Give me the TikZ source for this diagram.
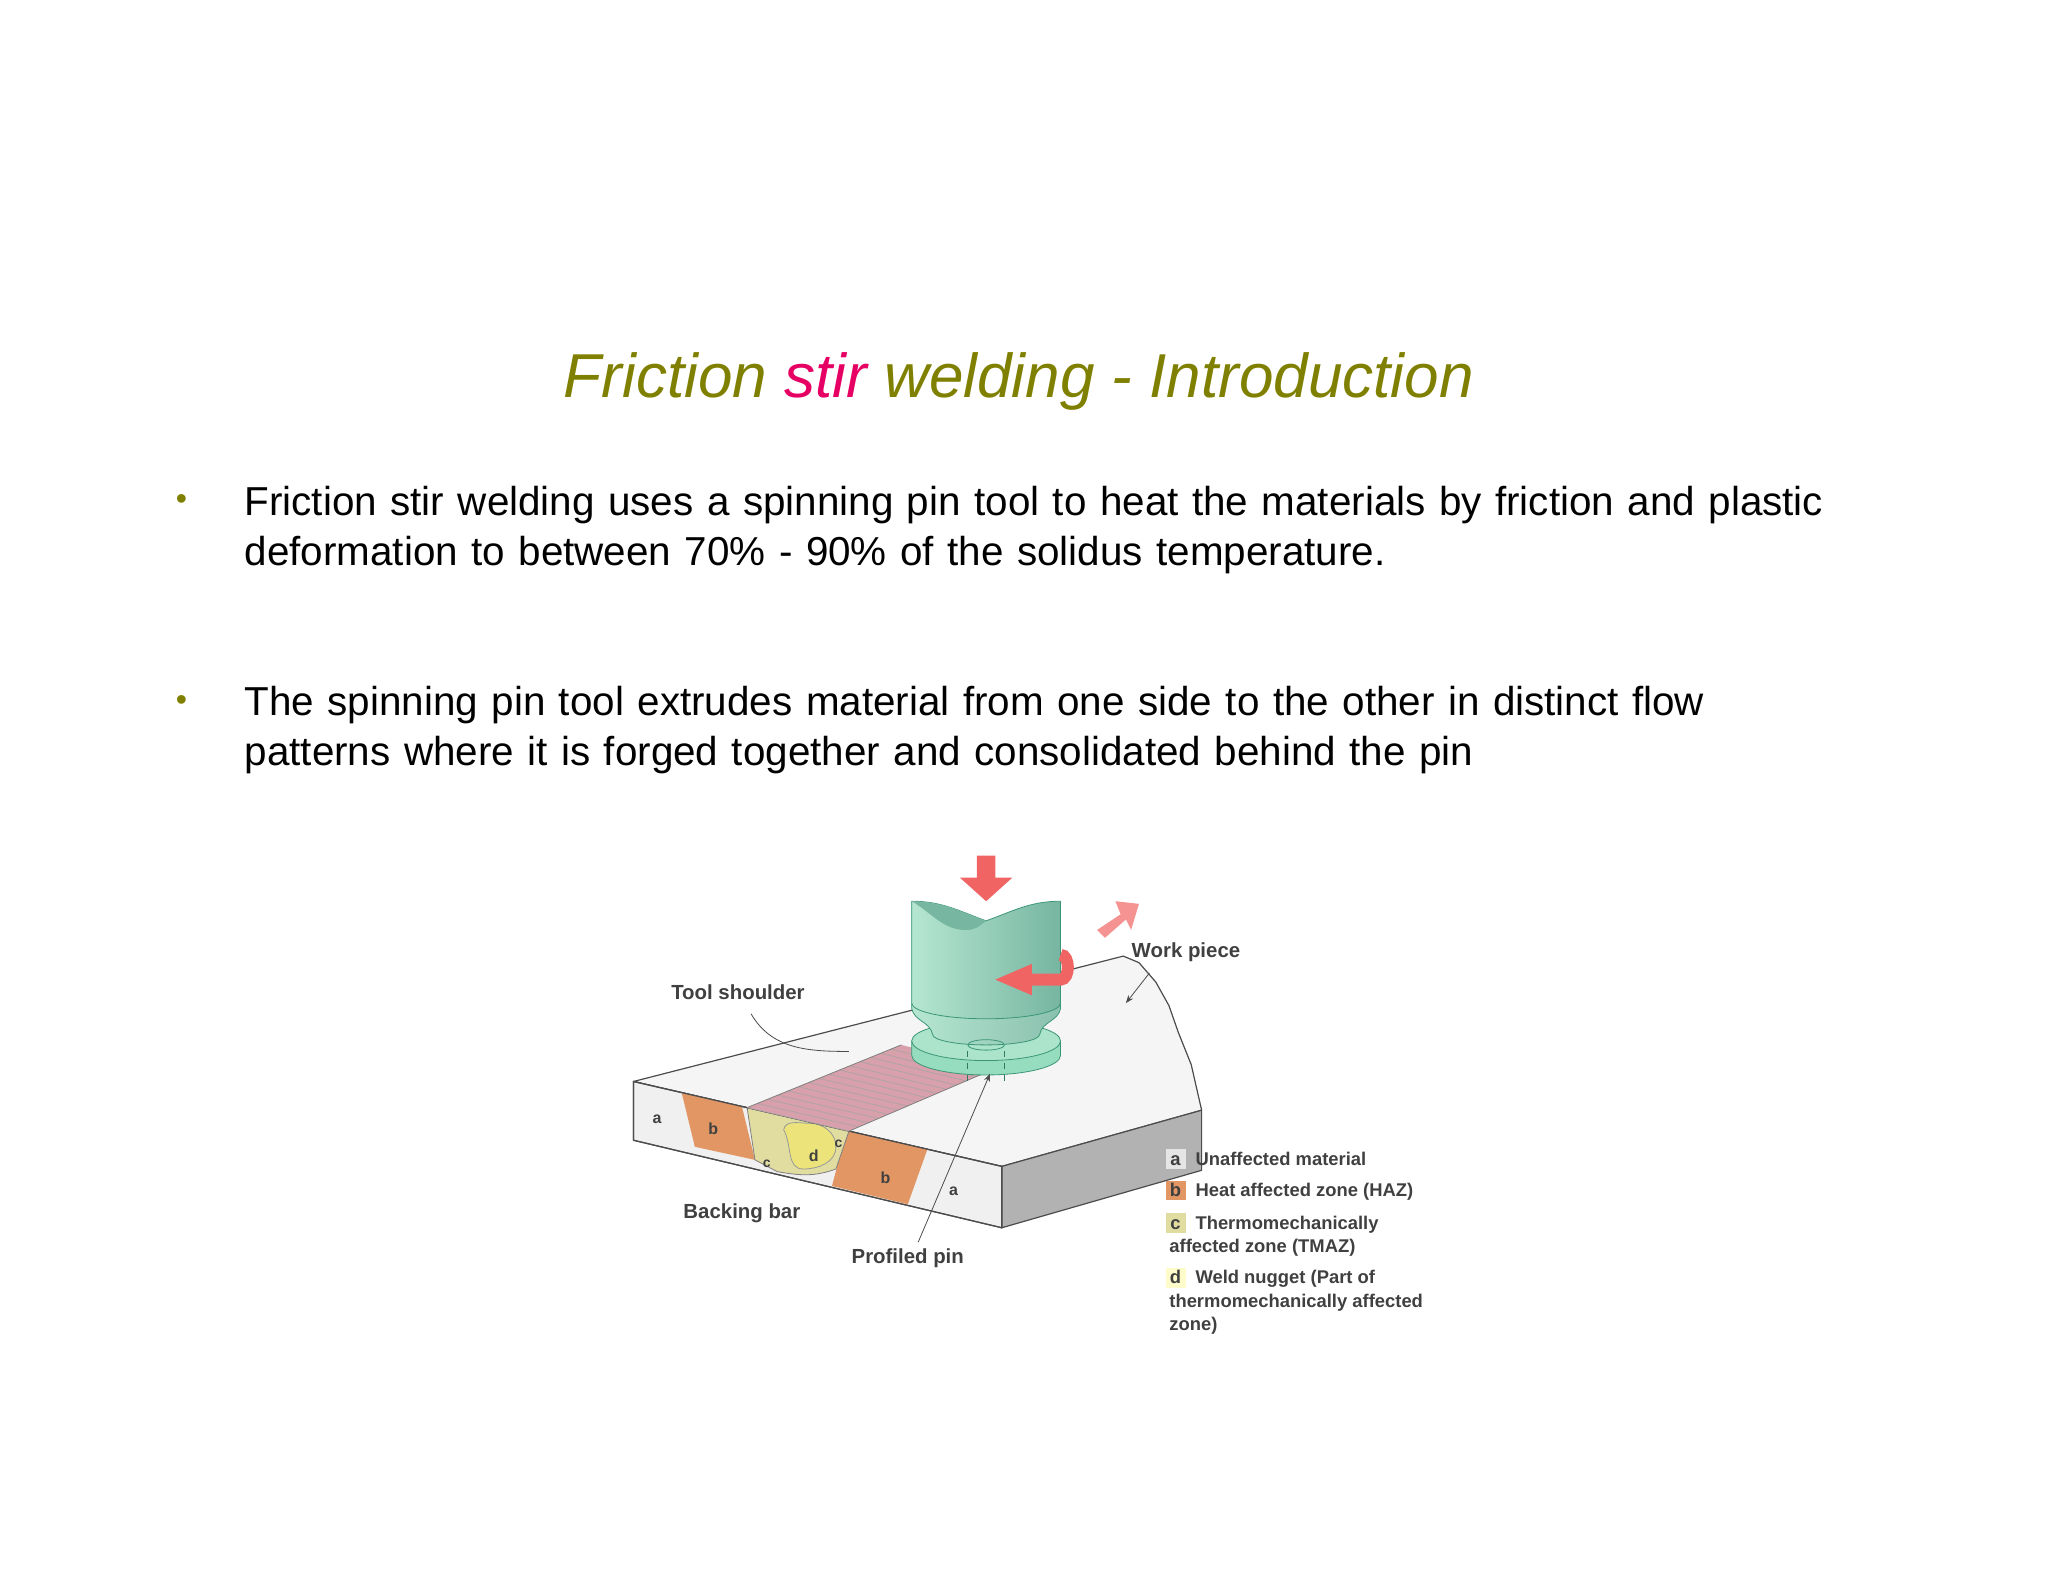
\documentclass[tikz,border=0pt]{standalone}
\usepackage{fontspec}
\setmainfont{Liberation Sans}
\usetikzlibrary{arrows.meta,calc}
\definecolor{olive}{RGB}{128,128,0}
\definecolor{mag}{RGB}{230,0,100}
\definecolor{tool}{RGB}{150,220,190}
\definecolor{toold}{RGB}{60,150,120}
\definecolor{haz}{RGB}{225,150,100}
\definecolor{tmaz}{RGB}{225,220,160}
\definecolor{weld}{RGB}{215,160,170}
\definecolor{arr}{RGB}{240,100,100}
\begin{document}
\begin{tikzpicture}[x=0.653pt,y=-0.653pt,
  bul/.style={anchor=base west,inner sep=0pt,font=\fontsize{20.2}{25}\selectfont,text width=830pt,align=left},
  lab/.style={font=\fontsize{10.2}{12}\selectfont\bfseries,text=black!75},
  zl/.style={font=\fontsize{8}{10}\selectfont\bfseries,text=black!75},
  leg/.style={anchor=base west,inner sep=0pt,font=\fontsize{9.2}{11}\selectfont\bfseries,text=black!75},
  edge/.style={draw=black!70,line width=0.6pt,line join=round}]
\useasboundingbox (0,0) rectangle (1568,1211);
\node[font=\fontsize{31}{38}\selectfont\itshape,text=olive] (title) at (780,292) {Friction \textcolor{mag}{stir} welding - Introduction};
\node[text=olive,font=\fontsize{16}{20}\selectfont] (b1) at (139,384) {•};
\node[bul] (t1) at (187,395) {Friction stir welding uses a spinning pin tool to heat the materials by friction and plastic\\deformation to between 70\% - 90\% of the solidus temperature.};
\node[text=olive,font=\fontsize{16}{20}\selectfont] (b2) at (139,538) {•};
\node[bul] (t2) at (187,548) {The spinning pin tool extrudes material from one side to the other in distinct flow\\patterns where it is forged together and consolidated behind the pin};
% block
\fill[black!4,edge] (485,828) -- (860,732) -- (872,737) -- (885,752) -- (895,770) -- (902,790) -- (912,815) -- (920,850) -- (767,893) -- cycle;
\fill[black!30,edge] (767,893) -- (920,850) -- (920,896) -- (767,940) -- cycle;
\fill[black!6,edge] (485,828) -- (767,893) -- (767,940) -- (485,873) -- cycle;
% zones on front face
\fill[haz] (522,837) -- (568,847) -- (578,888) -- (532,878) -- cycle;
\fill[haz] (648,866) -- (710,880) -- (695,922) -- (637,908) -- cycle;
\fill[tmaz,draw=black!50] (572,848) -- (650,866) -- (640,895) to[out=200,in=-10] (595,897) -- (578,888) -- cycle;
\fill[yellow!30!tmaz,draw=black!40] (600,865) to[out=80,in=180] (620,860) to[out=0,in=90] (640,878) to[out=-90,in=0] (615,895) to[out=180,in=-60] (600,865);
\draw[edge] (485,828) -- (767,893) -- (767,940) -- (485,873) -- cycle;
% weld strip on top
\fill[weld] (572,848) -- (690,800) -- (762,818) -- (650,866) -- cycle;
\foreach \i in {0,...,14}{\draw[black!35,line width=0.3pt] ($(572,848)!\i/15!(690,800)$) -- ($(650,866)!\i/15!(762,818)$);}
\draw[black!50,line width=0.4pt] (572,848) -- (690,800) (650,866) -- (762,818);
% tool
\fill[tool,draw=toold] (698,797) -- (698,808) arc[start angle=180,end angle=0,x radius=57,y radius=15] -- (812,797) -- cycle;
\fill[tool!80!white,draw=toold] (755,797) ellipse[x radius=57,y radius=15];
\draw[toold!80!black,dashed] (741,805) -- (741,828) (769,805) -- (769,828);
\shade[left color=tool!70!white,right color=toold!60,draw=toold] (698,765) -- (698,772) to[out=-80,in=100] (714,792) arc[start angle=180,end angle=0,x radius=41,y radius=8] to[out=80,in=-100] (812,772) -- (812,765) -- cycle;
\draw[toold] (755,800) ellipse[x radius=14,y radius=4];
\shade[left color=tool!70!white,right color=toold!70,draw=toold] (698,690) -- (698,768) arc[start angle=180,end angle=0,x radius=57,y radius=12] -- (812,690) to[out=180,in=20] (755,705) to[out=160,in=0] (698,690);
\fill[toold!70] (698,690) to[out=-30,in=180] (740,712) to[out=0,in=220] (755,705) to[out=160,in=0] (698,690);
% arrows
\fill[arr] (748,655) -- (762,655) -- (762,672) -- (775,672) -- (755,690) -- (735,672) -- (748,672) -- cycle;
\fill[arr!70] (840,712) -- (858,700) -- (854,690) -- (872,692) -- (866,712) -- (862,704) -- (846,718) -- cycle;
\draw[arr,line width=6pt] (812,731) to[out=0,in=0] (812,750) -- (790,750);
\fill[arr] (790,738) -- (762,750) -- (790,762) -- cycle;
% labels
\node[lab] (ts) at (565,760) {Tool shoulder};
\draw[black!70,line width=0.4pt] (ts.south)++(10,5) to[out=-60,in=180] (650,805);
\node[lab] (wp) at (908,729) {Work piece};
\coordinate (wpe) at (862,768);
\draw[black!70,line width=0.4pt,-{Stealth[length=4pt]}] (880,745) -- (wpe);
\node[lab] (bb) at (568,929) {Backing bar};
\node[lab] (pp) at (695,963) {Profiled pin};
\coordinate (ppe) at (758,822);
\draw[black!70,line width=0.4pt,-{Stealth[length=4pt]}] (703,951) -- (ppe);
\node[zl] at (503,857) {a};
\node[zl] at (546,864) {b};
\node[zl] at (678,902) {b};
\node[zl] at (730,912) {a};
\node[zl,font=\fontsize{7}{10}\selectfont\bfseries] at (587,891) {c};
\node[zl,font=\fontsize{7}{10}\selectfont\bfseries] at (642,876) {c};
\node[zl] at (623,885) {d};
% legend
\fill[black!10] (893,880) rectangle (908,895);
\fill[haz] (893,904) rectangle (908,919);
\fill[tmaz] (893,929) rectangle (908,944);
\fill[yellow!20] (893,971) rectangle (908,986);
\foreach \l/\y in {a/892,b/916,c/941,d/983}{\node[leg,anchor=base] at (900,\y) {\l};}
\node[leg] at (915,892) {Unaffected material};
\node[leg] at (915,916) {Heat affected zone (HAZ)};
\node[leg] at (915,941) {Thermomechanically};
\node[leg] at (895,959) {affected zone (TMAZ)};
\node[leg] at (915,983) {Weld nugget (Part of};
\node[leg] at (895,1001) {thermomechanically affected};
\node[leg] at (895,1019) {zone)};
\end{tikzpicture}
\end{document}
